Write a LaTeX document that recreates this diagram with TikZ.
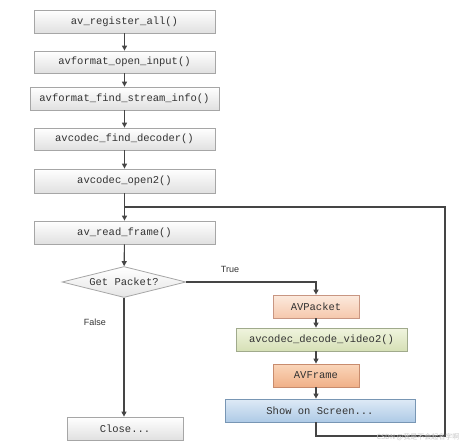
\documentclass[tikz,border=0pt]{standalone}
\usepackage{fontspec}
\setmonofont{Liberation Mono}
\setsansfont{Liberation Sans}
\newfontfamily\cjk{Noto Sans CJK SC}
\usetikzlibrary{arrows.meta,shapes.geometric}
\definecolor{lineC}{HTML}{454545}
\definecolor{txtC}{HTML}{333333}
\definecolor{pkD}{RGB}{200,150,130}
\definecolor{pkT}{RGB}{252,234,222}
\definecolor{pkB}{RGB}{245,200,172}
\definecolor{grD}{RGB}{160,170,140}
\definecolor{grT}{RGB}{240,244,222}
\definecolor{grB}{RGB}{214,224,182}
\definecolor{frD}{RGB}{200,140,110}
\definecolor{frT}{RGB}{250,214,186}
\definecolor{frB}{RGB}{240,176,136}
\definecolor{blD}{RGB}{120,150,180}
\definecolor{blT}{RGB}{222,234,246}
\definecolor{blB}{RGB}{174,202,230}
\tikzset{
  box/.style={draw=#1, line width=0.8pt, rectangle, minimum height=23pt, inner sep=0pt,
     font=\ttfamily\fontsize{10.5}{12}\selectfont, text=txtC},
  graybox/.style={box=gray!70, top color=white, bottom color=black!12},
  pkbox/.style={box=pkD, top color=pkT, bottom color=pkB},
  grbox/.style={box=grD, top color=grT, bottom color=grB},
  frbox/.style={box=frD, top color=frT, bottom color=frB},
  blbox/.style={box=blD, top color=blT, bottom color=blB},
  conn/.style={draw=lineC, line width=1.1pt, -{Triangle[length=5pt,width=5pt]}},
  plain/.style={draw=lineC, line width=1.1pt},
  lbl/.style={font=\sffamily\fontsize{9}{10}\selectfont, text=txtC},
}
\begin{document}
\begin{tikzpicture}[x=1pt,y=-1pt]
\useasboundingbox (0,0) rectangle (474,447);
\node[graybox, minimum width=181pt] (b1) at (124.5,21.5) {av\_register\_all()};
\node[graybox, minimum width=181pt, minimum height=22pt] (b2) at (124.5,62) {avformat\_open\_input()};
\node[graybox, minimum width=189pt] (b3) at (124.5,98.5) {avformat\_find\_stream\_info()};
\node[graybox, minimum width=181pt, minimum height=22pt] (b4) at (124.5,139) {avcodec\_find\_decoder()};
\node[graybox, minimum width=181pt, minimum height=24pt] (b5) at (124.5,181) {avcodec\_open2()};
\node[graybox, minimum width=181pt] (b6) at (124.5,232.5) {av\_read\_frame()};
\node[diamond, aspect=4, draw=gray!70, line width=0.8pt, top color=white, bottom color=black!10,
      minimum width=124pt, minimum height=31pt, inner sep=0pt,
      font=\ttfamily\fontsize{10.5}{12}\selectfont, text=txtC] (d) at (124,282) {Get Packet?};
\node[pkbox, minimum width=86pt] (pk) at (316,306.5) {AVPacket};
\node[grbox, minimum width=171pt] (dec) at (321.5,339.5) {avcodec\_decode\_video2()};
\node[frbox, minimum width=86pt] (fr) at (316,375.5) {AVFrame};
\node[blbox, minimum width=190pt] (sh) at (320,410.5) {Show on Screen...};
\node[graybox, minimum width=116pt] (cl) at (125,428.5) {Close...};

\coordinate (j) at (124.5,207);
\coordinate (tc) at (316,282);
\coordinate (l1) at (316,436);
\coordinate (l2) at (445,436);
\coordinate (l3) at (445,207);

\draw[conn] (b1) -- (b2);
\draw[conn] (b2) -- (b3);
\draw[conn] (b3) -- (b4);
\draw[conn] (b4) -- (b5);
\draw[conn] (b5) -- (b6);
\draw[conn] (b6) -- (d);
\draw[conn] (d.east) -- (tc) -- (pk.north);
\draw[conn] (pk) -- (pk|-dec.north);
\draw[conn] (pk|-dec.south) -- (fr);
\draw[conn] (fr) -- (fr|-sh.north);
\draw[plain] (sh.south-|l1) -- (l1) -- (l2) -- (l3) -- (j);
\draw[conn] (d.south) -- (d.south|-cl.north);

\node[lbl] (t) at (230,269) {True};
\node[lbl] (f) at (95,322) {False};
\node[font=\cjk\fontsize{7}{8}\selectfont, text=gray!45] (wm) at (418,437) {CSDN @我是不会起名字啊};
\end{tikzpicture}
\end{document}
